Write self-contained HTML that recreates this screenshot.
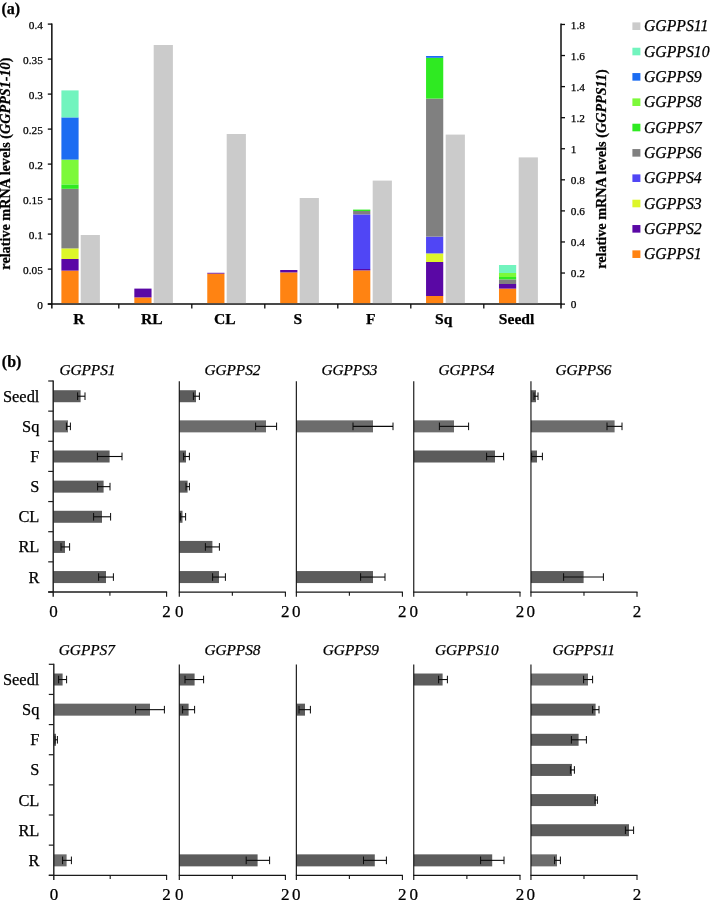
<!DOCTYPE html>
<html><head><meta charset="utf-8"><title>GGPPS expression</title>
<style>
html,body{margin:0;padding:0;background:#fff;}
svg{display:block;}
text{font-family:"Liberation Serif","Times New Roman",Times,serif;fill:#000;stroke:#000;stroke-width:0.25px;}
</style></head><body>
<svg width="710" height="900" viewBox="0 0 710 900" shape-rendering="geometricPrecision">
<rect x="0" y="0" width="710" height="900" fill="#ffffff"/>
<text x="1.50" y="13.80" font-size="16" text-anchor="start" font-weight="bold" font-style="normal"  stroke="none">(a)</text>
<line x1="51.85" y1="23.50" x2="51.85" y2="308.50" stroke="#0c0c0c" stroke-width="1.5"/>
<line x1="47.80" y1="304.10" x2="52.00" y2="304.10" stroke="#0c0c0c" stroke-width="1.3"/>
<text x="42.90" y="308.50" font-size="11.3" text-anchor="end" font-weight="normal" font-style="normal" >0</text>
<line x1="47.80" y1="269.10" x2="52.00" y2="269.10" stroke="#0c0c0c" stroke-width="1.3"/>
<text x="42.90" y="273.50" font-size="11.3" text-anchor="end" font-weight="normal" font-style="normal" >0.05</text>
<line x1="47.80" y1="234.10" x2="52.00" y2="234.10" stroke="#0c0c0c" stroke-width="1.3"/>
<text x="42.90" y="238.50" font-size="11.3" text-anchor="end" font-weight="normal" font-style="normal" >0.1</text>
<line x1="47.80" y1="199.10" x2="52.00" y2="199.10" stroke="#0c0c0c" stroke-width="1.3"/>
<text x="42.90" y="203.50" font-size="11.3" text-anchor="end" font-weight="normal" font-style="normal" >0.15</text>
<line x1="47.80" y1="164.10" x2="52.00" y2="164.10" stroke="#0c0c0c" stroke-width="1.3"/>
<text x="42.90" y="168.50" font-size="11.3" text-anchor="end" font-weight="normal" font-style="normal" >0.2</text>
<line x1="47.80" y1="129.10" x2="52.00" y2="129.10" stroke="#0c0c0c" stroke-width="1.3"/>
<text x="42.90" y="133.50" font-size="11.3" text-anchor="end" font-weight="normal" font-style="normal" >0.25</text>
<line x1="47.80" y1="94.10" x2="52.00" y2="94.10" stroke="#0c0c0c" stroke-width="1.3"/>
<text x="42.90" y="98.50" font-size="11.3" text-anchor="end" font-weight="normal" font-style="normal" >0.3</text>
<line x1="47.80" y1="59.10" x2="52.00" y2="59.10" stroke="#0c0c0c" stroke-width="1.3"/>
<text x="42.90" y="63.50" font-size="11.3" text-anchor="end" font-weight="normal" font-style="normal" >0.35</text>
<line x1="47.80" y1="24.10" x2="52.00" y2="24.10" stroke="#0c0c0c" stroke-width="1.3"/>
<text x="42.90" y="28.50" font-size="11.3" text-anchor="end" font-weight="normal" font-style="normal" >0.4</text>
<line x1="47.80" y1="304.00" x2="561.60" y2="304.00" stroke="#0c0c0c" stroke-width="1.5"/>
<line x1="118.80" y1="304.10" x2="118.80" y2="308.50" stroke="#0c0c0c" stroke-width="1.3"/>
<line x1="191.80" y1="304.10" x2="191.80" y2="308.50" stroke="#0c0c0c" stroke-width="1.3"/>
<line x1="264.80" y1="304.10" x2="264.80" y2="308.50" stroke="#0c0c0c" stroke-width="1.3"/>
<line x1="337.80" y1="304.10" x2="337.80" y2="308.50" stroke="#0c0c0c" stroke-width="1.3"/>
<line x1="410.80" y1="304.10" x2="410.80" y2="308.50" stroke="#0c0c0c" stroke-width="1.3"/>
<line x1="483.80" y1="304.10" x2="483.80" y2="308.50" stroke="#0c0c0c" stroke-width="1.3"/>
<line x1="561.00" y1="23.50" x2="561.00" y2="308.50" stroke="#0c0c0c" stroke-width="1.5"/>
<line x1="561.00" y1="304.10" x2="565.00" y2="304.10" stroke="#0c0c0c" stroke-width="1.3"/>
<text x="570.80" y="308.30" font-size="11.3" text-anchor="start" font-weight="normal" font-style="normal" >0</text>
<line x1="561.00" y1="273.03" x2="565.00" y2="273.03" stroke="#0c0c0c" stroke-width="1.3"/>
<text x="570.80" y="277.23" font-size="11.3" text-anchor="start" font-weight="normal" font-style="normal" >0.2</text>
<line x1="561.00" y1="241.96" x2="565.00" y2="241.96" stroke="#0c0c0c" stroke-width="1.3"/>
<text x="570.80" y="246.16" font-size="11.3" text-anchor="start" font-weight="normal" font-style="normal" >0.4</text>
<line x1="561.00" y1="210.89" x2="565.00" y2="210.89" stroke="#0c0c0c" stroke-width="1.3"/>
<text x="570.80" y="215.09" font-size="11.3" text-anchor="start" font-weight="normal" font-style="normal" >0.6</text>
<line x1="561.00" y1="179.82" x2="565.00" y2="179.82" stroke="#0c0c0c" stroke-width="1.3"/>
<text x="570.80" y="184.02" font-size="11.3" text-anchor="start" font-weight="normal" font-style="normal" >0.8</text>
<line x1="561.00" y1="148.75" x2="565.00" y2="148.75" stroke="#0c0c0c" stroke-width="1.3"/>
<text x="570.80" y="152.95" font-size="11.3" text-anchor="start" font-weight="normal" font-style="normal" >1</text>
<line x1="561.00" y1="117.68" x2="565.00" y2="117.68" stroke="#0c0c0c" stroke-width="1.3"/>
<text x="570.80" y="121.88" font-size="11.3" text-anchor="start" font-weight="normal" font-style="normal" >1.2</text>
<line x1="561.00" y1="86.61" x2="565.00" y2="86.61" stroke="#0c0c0c" stroke-width="1.3"/>
<text x="570.80" y="90.81" font-size="11.3" text-anchor="start" font-weight="normal" font-style="normal" >1.4</text>
<line x1="561.00" y1="55.54" x2="565.00" y2="55.54" stroke="#0c0c0c" stroke-width="1.3"/>
<text x="570.80" y="59.74" font-size="11.3" text-anchor="start" font-weight="normal" font-style="normal" >1.6</text>
<line x1="561.00" y1="24.47" x2="565.00" y2="24.47" stroke="#0c0c0c" stroke-width="1.3"/>
<text x="570.80" y="28.67" font-size="11.3" text-anchor="start" font-weight="normal" font-style="normal" >1.8</text>
<rect x="61.40" y="270.60" width="17.20" height="32.50" fill="#FF8312"/>
<rect x="61.40" y="259.00" width="17.20" height="11.60" fill="#5A08A5"/>
<rect x="61.40" y="248.40" width="17.20" height="10.60" fill="#DDF62A"/>
<rect x="61.40" y="188.80" width="17.20" height="59.60" fill="#808080"/>
<rect x="61.40" y="184.40" width="17.20" height="4.40" fill="#2FEA22"/>
<rect x="61.40" y="159.60" width="17.20" height="24.80" fill="#7CF93A"/>
<rect x="61.40" y="117.40" width="17.20" height="42.20" fill="#1B6CF2"/>
<rect x="61.40" y="90.40" width="17.20" height="27.00" fill="#72F4BE"/>
<rect x="80.70" y="235.00" width="19.20" height="68.10" fill="#CBCBCB"/>
<rect x="134.33" y="297.40" width="17.20" height="5.70" fill="#FF8312"/>
<rect x="134.33" y="288.60" width="17.20" height="8.80" fill="#5A08A5"/>
<rect x="153.70" y="45.00" width="19.20" height="258.10" fill="#CBCBCB"/>
<rect x="207.26" y="273.60" width="17.20" height="29.50" fill="#FF8312"/>
<rect x="207.26" y="272.80" width="17.20" height="0.80" fill="#5A08A5"/>
<rect x="226.70" y="134.00" width="19.20" height="169.10" fill="#CBCBCB"/>
<rect x="280.19" y="272.40" width="17.20" height="30.70" fill="#FF8312"/>
<rect x="280.19" y="270.00" width="17.20" height="2.40" fill="#5A08A5"/>
<rect x="299.70" y="198.00" width="19.20" height="105.10" fill="#CBCBCB"/>
<rect x="353.12" y="270.40" width="17.20" height="32.70" fill="#FF8312"/>
<rect x="353.12" y="269.00" width="17.20" height="1.40" fill="#5A08A5"/>
<rect x="353.12" y="214.40" width="17.20" height="54.60" fill="#5046F5"/>
<rect x="353.12" y="211.00" width="17.20" height="3.40" fill="#808080"/>
<rect x="353.12" y="209.60" width="17.20" height="1.40" fill="#2FEA22"/>
<rect x="372.70" y="180.60" width="19.20" height="122.50" fill="#CBCBCB"/>
<rect x="426.05" y="296.00" width="17.20" height="7.10" fill="#FF8312"/>
<rect x="426.05" y="262.00" width="17.20" height="34.00" fill="#5A08A5"/>
<rect x="426.05" y="253.40" width="17.20" height="8.60" fill="#DDF62A"/>
<rect x="426.05" y="236.60" width="17.20" height="16.80" fill="#5046F5"/>
<rect x="426.05" y="98.60" width="17.20" height="138.00" fill="#808080"/>
<rect x="426.05" y="57.80" width="17.20" height="40.80" fill="#2FEA22"/>
<rect x="426.05" y="56.00" width="17.20" height="1.80" fill="#1B6CF2"/>
<rect x="445.70" y="134.60" width="19.20" height="168.50" fill="#CBCBCB"/>
<rect x="498.98" y="288.60" width="17.20" height="14.50" fill="#FF8312"/>
<rect x="498.98" y="284.00" width="17.20" height="4.60" fill="#5A08A5"/>
<rect x="498.98" y="279.40" width="17.20" height="4.60" fill="#808080"/>
<rect x="498.98" y="277.00" width="17.20" height="2.40" fill="#2FEA22"/>
<rect x="498.98" y="273.00" width="17.20" height="4.00" fill="#7CF93A"/>
<rect x="498.98" y="265.00" width="17.20" height="8.00" fill="#72F4BE"/>
<rect x="518.70" y="157.40" width="19.20" height="145.70" fill="#CBCBCB"/>
<text x="78.90" y="324.40" font-size="15.6" text-anchor="middle" font-weight="bold" font-style="normal"  stroke="none">R</text>
<text x="151.85" y="324.40" font-size="15.6" text-anchor="middle" font-weight="bold" font-style="normal"  stroke="none">RL</text>
<text x="224.80" y="324.40" font-size="15.6" text-anchor="middle" font-weight="bold" font-style="normal"  stroke="none">CL</text>
<text x="297.75" y="324.40" font-size="15.6" text-anchor="middle" font-weight="bold" font-style="normal"  stroke="none">S</text>
<text x="370.70" y="324.40" font-size="15.6" text-anchor="middle" font-weight="bold" font-style="normal"  stroke="none">F</text>
<text x="443.65" y="324.40" font-size="15.6" text-anchor="middle" font-weight="bold" font-style="normal"  stroke="none">Sq</text>
<text x="516.60" y="324.40" font-size="15.6" text-anchor="middle" font-weight="bold" font-style="normal"  stroke="none">Seedl</text>
<text transform="translate(9.7,163.6) rotate(-90)" font-size="14.2" font-weight="bold" stroke="none" text-anchor="middle" id="ltitle">relative mRNA levels (<tspan font-style="italic">GGPPS1-10</tspan>)</text>
<text transform="translate(605.9,169) rotate(-90)" font-size="14.2" font-weight="bold" stroke="none" text-anchor="middle" id="rtitle">relative mRNA levels (<tspan font-style="italic">GGPPS11</tspan>)</text>
<rect x="632.40" y="22.40" width="8.00" height="7.60" fill="#CBCBCB"/>
<text x="643.90" y="31.40" font-size="15.75" text-anchor="start" font-weight="normal" font-style="italic" >GGPPS11</text>
<rect x="632.40" y="47.73" width="8.00" height="7.60" fill="#72F4BE"/>
<text x="643.90" y="56.73" font-size="15.75" text-anchor="start" font-weight="normal" font-style="italic" >GGPPS10</text>
<rect x="632.40" y="73.06" width="8.00" height="7.60" fill="#1B6CF2"/>
<text x="643.90" y="82.06" font-size="15.75" text-anchor="start" font-weight="normal" font-style="italic" >GGPPS9</text>
<rect x="632.40" y="98.39" width="8.00" height="7.60" fill="#7CF93A"/>
<text x="643.90" y="107.39" font-size="15.75" text-anchor="start" font-weight="normal" font-style="italic" >GGPPS8</text>
<rect x="632.40" y="123.72" width="8.00" height="7.60" fill="#2FEA22"/>
<text x="643.90" y="132.72" font-size="15.75" text-anchor="start" font-weight="normal" font-style="italic" >GGPPS7</text>
<rect x="632.40" y="149.05" width="8.00" height="7.60" fill="#808080"/>
<text x="643.90" y="158.05" font-size="15.75" text-anchor="start" font-weight="normal" font-style="italic" >GGPPS6</text>
<rect x="632.40" y="174.38" width="8.00" height="7.60" fill="#5046F5"/>
<text x="643.90" y="183.38" font-size="15.75" text-anchor="start" font-weight="normal" font-style="italic" >GGPPS4</text>
<rect x="632.40" y="199.71" width="8.00" height="7.60" fill="#DDF62A"/>
<text x="643.90" y="208.71" font-size="15.75" text-anchor="start" font-weight="normal" font-style="italic" >GGPPS3</text>
<rect x="632.40" y="225.04" width="8.00" height="7.60" fill="#5A08A5"/>
<text x="643.90" y="234.04" font-size="15.75" text-anchor="start" font-weight="normal" font-style="italic" >GGPPS2</text>
<rect x="632.40" y="250.37" width="8.00" height="7.60" fill="#FF8312"/>
<text x="643.90" y="259.37" font-size="15.75" text-anchor="start" font-weight="normal" font-style="italic" >GGPPS1</text>
<text x="1.80" y="367.10" font-size="16" text-anchor="start" font-weight="bold" font-style="normal"  stroke="none">(b)</text>
<rect x="53.20" y="390.22" width="27.40" height="12.00" fill="#5c5c5c"/>
<line x1="77.60" y1="396.22" x2="85.00" y2="396.22" stroke="#0a0a0a" stroke-width="1.1"/>
<line x1="77.60" y1="392.42" x2="77.60" y2="400.02" stroke="#0a0a0a" stroke-width="1.0"/>
<line x1="85.00" y1="392.42" x2="85.00" y2="400.02" stroke="#0a0a0a" stroke-width="1.0"/>
<rect x="53.20" y="420.36" width="14.80" height="12.00" fill="#6c6c6c"/>
<line x1="66.40" y1="426.36" x2="70.40" y2="426.36" stroke="#0a0a0a" stroke-width="1.1"/>
<line x1="66.40" y1="422.56" x2="66.40" y2="430.16" stroke="#0a0a0a" stroke-width="1.0"/>
<line x1="70.40" y1="422.56" x2="70.40" y2="430.16" stroke="#0a0a0a" stroke-width="1.0"/>
<rect x="53.20" y="450.50" width="56.40" height="12.00" fill="#5c5c5c"/>
<line x1="97.40" y1="456.50" x2="122.00" y2="456.50" stroke="#0a0a0a" stroke-width="1.1"/>
<line x1="97.40" y1="452.70" x2="97.40" y2="460.30" stroke="#0a0a0a" stroke-width="1.0"/>
<line x1="122.00" y1="452.70" x2="122.00" y2="460.30" stroke="#0a0a0a" stroke-width="1.0"/>
<rect x="53.20" y="480.64" width="50.40" height="12.00" fill="#5c5c5c"/>
<line x1="97.60" y1="486.64" x2="110.00" y2="486.64" stroke="#0a0a0a" stroke-width="1.1"/>
<line x1="97.60" y1="482.84" x2="97.60" y2="490.44" stroke="#0a0a0a" stroke-width="1.0"/>
<line x1="110.00" y1="482.84" x2="110.00" y2="490.44" stroke="#0a0a0a" stroke-width="1.0"/>
<rect x="53.20" y="510.78" width="48.80" height="12.00" fill="#5c5c5c"/>
<line x1="93.60" y1="516.78" x2="110.60" y2="516.78" stroke="#0a0a0a" stroke-width="1.1"/>
<line x1="93.60" y1="512.98" x2="93.60" y2="520.58" stroke="#0a0a0a" stroke-width="1.0"/>
<line x1="110.60" y1="512.98" x2="110.60" y2="520.58" stroke="#0a0a0a" stroke-width="1.0"/>
<rect x="53.20" y="540.92" width="11.80" height="12.00" fill="#5c5c5c"/>
<line x1="61.00" y1="546.92" x2="69.60" y2="546.92" stroke="#0a0a0a" stroke-width="1.1"/>
<line x1="61.00" y1="543.12" x2="61.00" y2="550.72" stroke="#0a0a0a" stroke-width="1.0"/>
<line x1="69.60" y1="543.12" x2="69.60" y2="550.72" stroke="#0a0a0a" stroke-width="1.0"/>
<rect x="53.20" y="571.06" width="52.80" height="12.00" fill="#5c5c5c"/>
<line x1="98.60" y1="577.06" x2="113.40" y2="577.06" stroke="#0a0a0a" stroke-width="1.1"/>
<line x1="98.60" y1="573.26" x2="98.60" y2="580.86" stroke="#0a0a0a" stroke-width="1.0"/>
<line x1="113.40" y1="573.26" x2="113.40" y2="580.86" stroke="#0a0a0a" stroke-width="1.0"/>
<line x1="53.20" y1="380.40" x2="53.20" y2="596.78" stroke="#1c1c1c" stroke-width="1.4"/>
<line x1="48.20" y1="381.00" x2="53.20" y2="381.00" stroke="#1c1c1c" stroke-width="1.2"/>
<line x1="48.20" y1="411.14" x2="53.20" y2="411.14" stroke="#1c1c1c" stroke-width="1.2"/>
<line x1="48.20" y1="441.28" x2="53.20" y2="441.28" stroke="#1c1c1c" stroke-width="1.2"/>
<line x1="48.20" y1="471.42" x2="53.20" y2="471.42" stroke="#1c1c1c" stroke-width="1.2"/>
<line x1="48.20" y1="501.56" x2="53.20" y2="501.56" stroke="#1c1c1c" stroke-width="1.2"/>
<line x1="48.20" y1="531.70" x2="53.20" y2="531.70" stroke="#1c1c1c" stroke-width="1.2"/>
<line x1="48.20" y1="561.84" x2="53.20" y2="561.84" stroke="#1c1c1c" stroke-width="1.2"/>
<line x1="48.20" y1="591.98" x2="53.20" y2="591.98" stroke="#1c1c1c" stroke-width="1.2"/>
<line x1="48.20" y1="591.98" x2="167.10" y2="591.98" stroke="#1c1c1c" stroke-width="1.3"/>
<line x1="109.90" y1="591.98" x2="109.90" y2="595.78" stroke="#141414" stroke-width="1.1"/>
<line x1="166.60" y1="591.98" x2="166.60" y2="596.78" stroke="#141414" stroke-width="1.1"/>
<text x="53.40" y="617.00" font-size="17" text-anchor="middle" font-weight="normal" font-style="normal" >0</text>
<text x="166.50" y="617.00" font-size="17" text-anchor="middle" font-weight="normal" font-style="normal" >2</text>
<text x="59.40" y="375.00" font-size="15.3" text-anchor="start" font-weight="normal" font-style="italic" >GGPPS1</text>
<rect x="179.30" y="390.22" width="16.70" height="12.00" fill="#5c5c5c"/>
<line x1="193.40" y1="396.22" x2="199.40" y2="396.22" stroke="#0a0a0a" stroke-width="1.1"/>
<line x1="193.40" y1="392.42" x2="193.40" y2="400.02" stroke="#0a0a0a" stroke-width="1.0"/>
<line x1="199.40" y1="392.42" x2="199.40" y2="400.02" stroke="#0a0a0a" stroke-width="1.0"/>
<rect x="179.30" y="420.36" width="86.70" height="12.00" fill="#6c6c6c"/>
<line x1="255.60" y1="426.36" x2="276.60" y2="426.36" stroke="#0a0a0a" stroke-width="1.1"/>
<line x1="255.60" y1="422.56" x2="255.60" y2="430.16" stroke="#0a0a0a" stroke-width="1.0"/>
<line x1="276.60" y1="422.56" x2="276.60" y2="430.16" stroke="#0a0a0a" stroke-width="1.0"/>
<rect x="179.30" y="450.50" width="6.70" height="12.00" fill="#5c5c5c"/>
<line x1="183.60" y1="456.50" x2="189.40" y2="456.50" stroke="#0a0a0a" stroke-width="1.1"/>
<line x1="183.60" y1="452.70" x2="183.60" y2="460.30" stroke="#0a0a0a" stroke-width="1.0"/>
<line x1="189.40" y1="452.70" x2="189.40" y2="460.30" stroke="#0a0a0a" stroke-width="1.0"/>
<rect x="179.30" y="480.64" width="8.30" height="12.00" fill="#5c5c5c"/>
<line x1="186.00" y1="486.64" x2="189.40" y2="486.64" stroke="#0a0a0a" stroke-width="1.1"/>
<line x1="186.00" y1="482.84" x2="186.00" y2="490.44" stroke="#0a0a0a" stroke-width="1.0"/>
<line x1="189.40" y1="482.84" x2="189.40" y2="490.44" stroke="#0a0a0a" stroke-width="1.0"/>
<rect x="179.30" y="510.78" width="3.20" height="12.00" fill="#5c5c5c"/>
<line x1="180.60" y1="516.78" x2="185.60" y2="516.78" stroke="#0a0a0a" stroke-width="1.1"/>
<line x1="180.60" y1="512.98" x2="180.60" y2="520.58" stroke="#0a0a0a" stroke-width="1.0"/>
<line x1="185.60" y1="512.98" x2="185.60" y2="520.58" stroke="#0a0a0a" stroke-width="1.0"/>
<rect x="179.30" y="540.92" width="33.10" height="12.00" fill="#5c5c5c"/>
<line x1="205.40" y1="546.92" x2="219.40" y2="546.92" stroke="#0a0a0a" stroke-width="1.1"/>
<line x1="205.40" y1="543.12" x2="205.40" y2="550.72" stroke="#0a0a0a" stroke-width="1.0"/>
<line x1="219.40" y1="543.12" x2="219.40" y2="550.72" stroke="#0a0a0a" stroke-width="1.0"/>
<rect x="179.30" y="571.06" width="39.70" height="12.00" fill="#5c5c5c"/>
<line x1="212.60" y1="577.06" x2="225.40" y2="577.06" stroke="#0a0a0a" stroke-width="1.1"/>
<line x1="212.60" y1="573.26" x2="212.60" y2="580.86" stroke="#0a0a0a" stroke-width="1.0"/>
<line x1="225.40" y1="573.26" x2="225.40" y2="580.86" stroke="#0a0a0a" stroke-width="1.0"/>
<line x1="179.30" y1="381.20" x2="179.30" y2="596.78" stroke="#141414" stroke-width="1.15"/>
<line x1="178.80" y1="592.13" x2="285.90" y2="592.13" stroke="#141414" stroke-width="1.15"/>
<line x1="232.35" y1="591.98" x2="232.35" y2="595.78" stroke="#141414" stroke-width="1.1"/>
<line x1="285.40" y1="591.98" x2="285.40" y2="596.78" stroke="#141414" stroke-width="1.1"/>
<text x="179.20" y="617.00" font-size="17" text-anchor="middle" font-weight="normal" font-style="normal" >0</text>
<text x="285.30" y="617.00" font-size="17" text-anchor="middle" font-weight="normal" font-style="normal" >2</text>
<text x="204.40" y="375.00" font-size="15.3" text-anchor="start" font-weight="normal" font-style="italic" >GGPPS2</text>
<rect x="296.35" y="420.36" width="76.65" height="12.00" fill="#6c6c6c"/>
<line x1="353.00" y1="426.36" x2="393.00" y2="426.36" stroke="#0a0a0a" stroke-width="1.1"/>
<line x1="353.00" y1="422.56" x2="353.00" y2="430.16" stroke="#0a0a0a" stroke-width="1.0"/>
<line x1="393.00" y1="422.56" x2="393.00" y2="430.16" stroke="#0a0a0a" stroke-width="1.0"/>
<rect x="296.35" y="571.06" width="76.65" height="12.00" fill="#5c5c5c"/>
<line x1="360.60" y1="577.06" x2="385.00" y2="577.06" stroke="#0a0a0a" stroke-width="1.1"/>
<line x1="360.60" y1="573.26" x2="360.60" y2="580.86" stroke="#0a0a0a" stroke-width="1.0"/>
<line x1="385.00" y1="573.26" x2="385.00" y2="580.86" stroke="#0a0a0a" stroke-width="1.0"/>
<line x1="296.35" y1="381.20" x2="296.35" y2="596.78" stroke="#141414" stroke-width="1.15"/>
<line x1="295.85" y1="592.13" x2="402.90" y2="592.13" stroke="#141414" stroke-width="1.15"/>
<line x1="349.38" y1="591.98" x2="349.38" y2="595.78" stroke="#141414" stroke-width="1.1"/>
<line x1="402.40" y1="591.98" x2="402.40" y2="596.78" stroke="#141414" stroke-width="1.1"/>
<text x="296.25" y="617.00" font-size="17" text-anchor="middle" font-weight="normal" font-style="normal" >0</text>
<text x="402.30" y="617.00" font-size="17" text-anchor="middle" font-weight="normal" font-style="normal" >2</text>
<text x="321.40" y="375.00" font-size="15.3" text-anchor="start" font-weight="normal" font-style="italic" >GGPPS3</text>
<rect x="413.75" y="420.36" width="40.25" height="12.00" fill="#6c6c6c"/>
<line x1="439.40" y1="426.36" x2="468.60" y2="426.36" stroke="#0a0a0a" stroke-width="1.1"/>
<line x1="439.40" y1="422.56" x2="439.40" y2="430.16" stroke="#0a0a0a" stroke-width="1.0"/>
<line x1="468.60" y1="422.56" x2="468.60" y2="430.16" stroke="#0a0a0a" stroke-width="1.0"/>
<rect x="413.75" y="450.50" width="81.25" height="12.00" fill="#5c5c5c"/>
<line x1="486.60" y1="456.50" x2="503.60" y2="456.50" stroke="#0a0a0a" stroke-width="1.1"/>
<line x1="486.60" y1="452.70" x2="486.60" y2="460.30" stroke="#0a0a0a" stroke-width="1.0"/>
<line x1="503.60" y1="452.70" x2="503.60" y2="460.30" stroke="#0a0a0a" stroke-width="1.0"/>
<line x1="413.75" y1="381.20" x2="413.75" y2="596.78" stroke="#141414" stroke-width="1.15"/>
<line x1="413.25" y1="592.13" x2="520.50" y2="592.13" stroke="#141414" stroke-width="1.15"/>
<line x1="466.88" y1="591.98" x2="466.88" y2="595.78" stroke="#141414" stroke-width="1.1"/>
<line x1="520.00" y1="591.98" x2="520.00" y2="596.78" stroke="#141414" stroke-width="1.1"/>
<text x="413.65" y="617.00" font-size="17" text-anchor="middle" font-weight="normal" font-style="normal" >0</text>
<text x="519.90" y="617.00" font-size="17" text-anchor="middle" font-weight="normal" font-style="normal" >2</text>
<text x="438.40" y="375.00" font-size="15.3" text-anchor="start" font-weight="normal" font-style="italic" >GGPPS4</text>
<rect x="530.95" y="390.22" width="5.05" height="12.00" fill="#5c5c5c"/>
<line x1="534.00" y1="396.22" x2="538.00" y2="396.22" stroke="#0a0a0a" stroke-width="1.1"/>
<line x1="534.00" y1="392.42" x2="534.00" y2="400.02" stroke="#0a0a0a" stroke-width="1.0"/>
<line x1="538.00" y1="392.42" x2="538.00" y2="400.02" stroke="#0a0a0a" stroke-width="1.0"/>
<rect x="530.95" y="420.36" width="83.65" height="12.00" fill="#6c6c6c"/>
<line x1="607.00" y1="426.36" x2="622.00" y2="426.36" stroke="#0a0a0a" stroke-width="1.1"/>
<line x1="607.00" y1="422.56" x2="607.00" y2="430.16" stroke="#0a0a0a" stroke-width="1.0"/>
<line x1="622.00" y1="422.56" x2="622.00" y2="430.16" stroke="#0a0a0a" stroke-width="1.0"/>
<rect x="530.95" y="450.50" width="6.05" height="12.00" fill="#5c5c5c"/>
<line x1="531.60" y1="456.50" x2="542.40" y2="456.50" stroke="#0a0a0a" stroke-width="1.1"/>
<line x1="531.60" y1="452.70" x2="531.60" y2="460.30" stroke="#0a0a0a" stroke-width="1.0"/>
<line x1="542.40" y1="452.70" x2="542.40" y2="460.30" stroke="#0a0a0a" stroke-width="1.0"/>
<rect x="530.95" y="571.06" width="52.65" height="12.00" fill="#5c5c5c"/>
<line x1="563.60" y1="577.06" x2="603.40" y2="577.06" stroke="#0a0a0a" stroke-width="1.1"/>
<line x1="563.60" y1="573.26" x2="563.60" y2="580.86" stroke="#0a0a0a" stroke-width="1.0"/>
<line x1="603.40" y1="573.26" x2="603.40" y2="580.86" stroke="#0a0a0a" stroke-width="1.0"/>
<line x1="530.95" y1="381.20" x2="530.95" y2="596.78" stroke="#141414" stroke-width="1.15"/>
<line x1="530.45" y1="592.13" x2="637.50" y2="592.13" stroke="#141414" stroke-width="1.15"/>
<line x1="583.98" y1="591.98" x2="583.98" y2="595.78" stroke="#141414" stroke-width="1.1"/>
<line x1="637.00" y1="591.98" x2="637.00" y2="596.78" stroke="#141414" stroke-width="1.1"/>
<text x="530.85" y="617.00" font-size="17" text-anchor="middle" font-weight="normal" font-style="normal" >0</text>
<text x="636.90" y="617.00" font-size="17" text-anchor="middle" font-weight="normal" font-style="normal" >2</text>
<text x="555.40" y="375.00" font-size="15.3" text-anchor="start" font-weight="normal" font-style="italic" >GGPPS6</text>
<text x="39.40" y="401.67" font-size="16.4" text-anchor="end" font-weight="normal" font-style="normal" >Seedl</text>
<text x="39.40" y="431.81" font-size="16.4" text-anchor="end" font-weight="normal" font-style="normal" >Sq</text>
<text x="39.40" y="461.95" font-size="16.4" text-anchor="end" font-weight="normal" font-style="normal" >F</text>
<text x="39.40" y="492.09" font-size="16.4" text-anchor="end" font-weight="normal" font-style="normal" >S</text>
<text x="39.40" y="522.23" font-size="16.4" text-anchor="end" font-weight="normal" font-style="normal" >CL</text>
<text x="39.40" y="552.37" font-size="16.4" text-anchor="end" font-weight="normal" font-style="normal" >RL</text>
<text x="39.40" y="582.51" font-size="16.4" text-anchor="end" font-weight="normal" font-style="normal" >R</text>
<rect x="53.80" y="673.52" width="8.80" height="12.00" fill="#5c5c5c"/>
<line x1="58.60" y1="679.52" x2="66.60" y2="679.52" stroke="#0a0a0a" stroke-width="1.1"/>
<line x1="58.60" y1="675.72" x2="58.60" y2="683.32" stroke="#0a0a0a" stroke-width="1.0"/>
<line x1="66.60" y1="675.72" x2="66.60" y2="683.32" stroke="#0a0a0a" stroke-width="1.0"/>
<rect x="53.80" y="703.66" width="96.20" height="12.00" fill="#666"/>
<line x1="135.60" y1="709.66" x2="164.40" y2="709.66" stroke="#0a0a0a" stroke-width="1.1"/>
<line x1="135.60" y1="705.86" x2="135.60" y2="713.46" stroke="#0a0a0a" stroke-width="1.0"/>
<line x1="164.40" y1="705.86" x2="164.40" y2="713.46" stroke="#0a0a0a" stroke-width="1.0"/>
<rect x="53.80" y="733.80" width="2.20" height="12.00" fill="#5c5c5c"/>
<line x1="55.00" y1="739.80" x2="57.40" y2="739.80" stroke="#0a0a0a" stroke-width="1.1"/>
<line x1="55.00" y1="736.00" x2="55.00" y2="743.60" stroke="#0a0a0a" stroke-width="1.0"/>
<line x1="57.40" y1="736.00" x2="57.40" y2="743.60" stroke="#0a0a0a" stroke-width="1.0"/>
<rect x="53.80" y="854.36" width="12.80" height="12.00" fill="#6c6c6c"/>
<line x1="62.60" y1="860.36" x2="71.40" y2="860.36" stroke="#0a0a0a" stroke-width="1.1"/>
<line x1="62.60" y1="856.56" x2="62.60" y2="864.16" stroke="#0a0a0a" stroke-width="1.0"/>
<line x1="71.40" y1="856.56" x2="71.40" y2="864.16" stroke="#0a0a0a" stroke-width="1.0"/>
<line x1="53.80" y1="663.70" x2="53.80" y2="880.08" stroke="#1c1c1c" stroke-width="1.4"/>
<line x1="48.80" y1="664.30" x2="53.80" y2="664.30" stroke="#1c1c1c" stroke-width="1.2"/>
<line x1="48.80" y1="694.44" x2="53.80" y2="694.44" stroke="#1c1c1c" stroke-width="1.2"/>
<line x1="48.80" y1="724.58" x2="53.80" y2="724.58" stroke="#1c1c1c" stroke-width="1.2"/>
<line x1="48.80" y1="754.72" x2="53.80" y2="754.72" stroke="#1c1c1c" stroke-width="1.2"/>
<line x1="48.80" y1="784.86" x2="53.80" y2="784.86" stroke="#1c1c1c" stroke-width="1.2"/>
<line x1="48.80" y1="815.00" x2="53.80" y2="815.00" stroke="#1c1c1c" stroke-width="1.2"/>
<line x1="48.80" y1="845.14" x2="53.80" y2="845.14" stroke="#1c1c1c" stroke-width="1.2"/>
<line x1="48.80" y1="875.28" x2="53.80" y2="875.28" stroke="#1c1c1c" stroke-width="1.2"/>
<line x1="48.80" y1="875.28" x2="167.10" y2="875.28" stroke="#1c1c1c" stroke-width="1.3"/>
<line x1="110.20" y1="875.28" x2="110.20" y2="879.08" stroke="#141414" stroke-width="1.1"/>
<line x1="166.60" y1="875.28" x2="166.60" y2="880.08" stroke="#141414" stroke-width="1.1"/>
<text x="54.00" y="900.40" font-size="17" text-anchor="middle" font-weight="normal" font-style="normal" >0</text>
<text x="166.50" y="900.40" font-size="17" text-anchor="middle" font-weight="normal" font-style="normal" >2</text>
<text x="58.80" y="654.60" font-size="15.3" text-anchor="start" font-weight="normal" font-style="italic" >GGPPS7</text>
<rect x="179.30" y="673.52" width="15.30" height="12.00" fill="#5c5c5c"/>
<line x1="185.00" y1="679.52" x2="203.60" y2="679.52" stroke="#0a0a0a" stroke-width="1.1"/>
<line x1="185.00" y1="675.72" x2="185.00" y2="683.32" stroke="#0a0a0a" stroke-width="1.0"/>
<line x1="203.60" y1="675.72" x2="203.60" y2="683.32" stroke="#0a0a0a" stroke-width="1.0"/>
<rect x="179.30" y="703.66" width="9.30" height="12.00" fill="#5c5c5c"/>
<line x1="182.60" y1="709.66" x2="194.60" y2="709.66" stroke="#0a0a0a" stroke-width="1.1"/>
<line x1="182.60" y1="705.86" x2="182.60" y2="713.46" stroke="#0a0a0a" stroke-width="1.0"/>
<line x1="194.60" y1="705.86" x2="194.60" y2="713.46" stroke="#0a0a0a" stroke-width="1.0"/>
<rect x="179.30" y="854.36" width="78.30" height="12.00" fill="#5c5c5c"/>
<line x1="246.20" y1="860.36" x2="269.60" y2="860.36" stroke="#0a0a0a" stroke-width="1.1"/>
<line x1="246.20" y1="856.56" x2="246.20" y2="864.16" stroke="#0a0a0a" stroke-width="1.0"/>
<line x1="269.60" y1="856.56" x2="269.60" y2="864.16" stroke="#0a0a0a" stroke-width="1.0"/>
<line x1="179.30" y1="664.50" x2="179.30" y2="880.08" stroke="#141414" stroke-width="1.15"/>
<line x1="178.80" y1="875.43" x2="285.90" y2="875.43" stroke="#141414" stroke-width="1.15"/>
<line x1="232.35" y1="875.28" x2="232.35" y2="879.08" stroke="#141414" stroke-width="1.1"/>
<line x1="285.40" y1="875.28" x2="285.40" y2="880.08" stroke="#141414" stroke-width="1.1"/>
<text x="179.20" y="900.40" font-size="17" text-anchor="middle" font-weight="normal" font-style="normal" >0</text>
<text x="285.30" y="900.40" font-size="17" text-anchor="middle" font-weight="normal" font-style="normal" >2</text>
<text x="204.40" y="654.60" font-size="15.3" text-anchor="start" font-weight="normal" font-style="italic" >GGPPS8</text>
<rect x="296.35" y="703.66" width="8.65" height="12.00" fill="#5c5c5c"/>
<line x1="299.00" y1="709.66" x2="310.40" y2="709.66" stroke="#0a0a0a" stroke-width="1.1"/>
<line x1="299.00" y1="705.86" x2="299.00" y2="713.46" stroke="#0a0a0a" stroke-width="1.0"/>
<line x1="310.40" y1="705.86" x2="310.40" y2="713.46" stroke="#0a0a0a" stroke-width="1.0"/>
<rect x="296.35" y="854.36" width="78.45" height="12.00" fill="#5c5c5c"/>
<line x1="363.50" y1="860.36" x2="386.40" y2="860.36" stroke="#0a0a0a" stroke-width="1.1"/>
<line x1="363.50" y1="856.56" x2="363.50" y2="864.16" stroke="#0a0a0a" stroke-width="1.0"/>
<line x1="386.40" y1="856.56" x2="386.40" y2="864.16" stroke="#0a0a0a" stroke-width="1.0"/>
<line x1="296.35" y1="664.50" x2="296.35" y2="880.08" stroke="#141414" stroke-width="1.15"/>
<line x1="295.85" y1="875.43" x2="402.90" y2="875.43" stroke="#141414" stroke-width="1.15"/>
<line x1="349.38" y1="875.28" x2="349.38" y2="879.08" stroke="#141414" stroke-width="1.1"/>
<line x1="402.40" y1="875.28" x2="402.40" y2="880.08" stroke="#141414" stroke-width="1.1"/>
<text x="296.25" y="900.40" font-size="17" text-anchor="middle" font-weight="normal" font-style="normal" >0</text>
<text x="402.30" y="900.40" font-size="17" text-anchor="middle" font-weight="normal" font-style="normal" >2</text>
<text x="322.80" y="654.60" font-size="15.3" text-anchor="start" font-weight="normal" font-style="italic" >GGPPS9</text>
<rect x="413.75" y="673.52" width="28.85" height="12.00" fill="#5c5c5c"/>
<line x1="438.60" y1="679.52" x2="447.40" y2="679.52" stroke="#0a0a0a" stroke-width="1.1"/>
<line x1="438.60" y1="675.72" x2="438.60" y2="683.32" stroke="#0a0a0a" stroke-width="1.0"/>
<line x1="447.40" y1="675.72" x2="447.40" y2="683.32" stroke="#0a0a0a" stroke-width="1.0"/>
<rect x="413.75" y="854.36" width="78.45" height="12.00" fill="#5c5c5c"/>
<line x1="480.60" y1="860.36" x2="504.00" y2="860.36" stroke="#0a0a0a" stroke-width="1.1"/>
<line x1="480.60" y1="856.56" x2="480.60" y2="864.16" stroke="#0a0a0a" stroke-width="1.0"/>
<line x1="504.00" y1="856.56" x2="504.00" y2="864.16" stroke="#0a0a0a" stroke-width="1.0"/>
<line x1="413.75" y1="664.50" x2="413.75" y2="880.08" stroke="#141414" stroke-width="1.15"/>
<line x1="413.25" y1="875.43" x2="520.50" y2="875.43" stroke="#141414" stroke-width="1.15"/>
<line x1="466.88" y1="875.28" x2="466.88" y2="879.08" stroke="#141414" stroke-width="1.1"/>
<line x1="520.00" y1="875.28" x2="520.00" y2="880.08" stroke="#141414" stroke-width="1.1"/>
<text x="413.65" y="900.40" font-size="17" text-anchor="middle" font-weight="normal" font-style="normal" >0</text>
<text x="519.90" y="900.40" font-size="17" text-anchor="middle" font-weight="normal" font-style="normal" >2</text>
<text x="434.90" y="654.60" font-size="15.3" text-anchor="start" font-weight="normal" font-style="italic" >GGPPS10</text>
<rect x="530.95" y="673.52" width="57.05" height="12.00" fill="#6c6c6c"/>
<line x1="583.60" y1="679.52" x2="592.60" y2="679.52" stroke="#0a0a0a" stroke-width="1.1"/>
<line x1="583.60" y1="675.72" x2="583.60" y2="683.32" stroke="#0a0a0a" stroke-width="1.0"/>
<line x1="592.60" y1="675.72" x2="592.60" y2="683.32" stroke="#0a0a0a" stroke-width="1.0"/>
<rect x="530.95" y="703.66" width="64.65" height="12.00" fill="#5c5c5c"/>
<line x1="592.60" y1="709.66" x2="599.00" y2="709.66" stroke="#0a0a0a" stroke-width="1.1"/>
<line x1="592.60" y1="705.86" x2="592.60" y2="713.46" stroke="#0a0a0a" stroke-width="1.0"/>
<line x1="599.00" y1="705.86" x2="599.00" y2="713.46" stroke="#0a0a0a" stroke-width="1.0"/>
<rect x="530.95" y="733.80" width="47.65" height="12.00" fill="#5c5c5c"/>
<line x1="571.40" y1="739.80" x2="586.40" y2="739.80" stroke="#0a0a0a" stroke-width="1.1"/>
<line x1="571.40" y1="736.00" x2="571.40" y2="743.60" stroke="#0a0a0a" stroke-width="1.0"/>
<line x1="586.40" y1="736.00" x2="586.40" y2="743.60" stroke="#0a0a0a" stroke-width="1.0"/>
<rect x="530.95" y="763.94" width="41.05" height="12.00" fill="#5c5c5c"/>
<line x1="570.40" y1="769.94" x2="574.40" y2="769.94" stroke="#0a0a0a" stroke-width="1.1"/>
<line x1="570.40" y1="766.14" x2="570.40" y2="773.74" stroke="#0a0a0a" stroke-width="1.0"/>
<line x1="574.40" y1="766.14" x2="574.40" y2="773.74" stroke="#0a0a0a" stroke-width="1.0"/>
<rect x="530.95" y="794.08" width="65.05" height="12.00" fill="#5c5c5c"/>
<line x1="595.00" y1="800.08" x2="597.40" y2="800.08" stroke="#0a0a0a" stroke-width="1.1"/>
<line x1="595.00" y1="796.28" x2="595.00" y2="803.88" stroke="#0a0a0a" stroke-width="1.0"/>
<line x1="597.40" y1="796.28" x2="597.40" y2="803.88" stroke="#0a0a0a" stroke-width="1.0"/>
<rect x="530.95" y="824.22" width="98.05" height="12.00" fill="#5c5c5c"/>
<line x1="625.40" y1="830.22" x2="633.60" y2="830.22" stroke="#0a0a0a" stroke-width="1.1"/>
<line x1="625.40" y1="826.42" x2="625.40" y2="834.02" stroke="#0a0a0a" stroke-width="1.0"/>
<line x1="633.60" y1="826.42" x2="633.60" y2="834.02" stroke="#0a0a0a" stroke-width="1.0"/>
<rect x="530.95" y="854.36" width="26.05" height="12.00" fill="#6c6c6c"/>
<line x1="554.60" y1="860.36" x2="560.40" y2="860.36" stroke="#0a0a0a" stroke-width="1.1"/>
<line x1="554.60" y1="856.56" x2="554.60" y2="864.16" stroke="#0a0a0a" stroke-width="1.0"/>
<line x1="560.40" y1="856.56" x2="560.40" y2="864.16" stroke="#0a0a0a" stroke-width="1.0"/>
<line x1="530.95" y1="664.50" x2="530.95" y2="880.08" stroke="#141414" stroke-width="1.15"/>
<line x1="530.45" y1="875.43" x2="637.50" y2="875.43" stroke="#141414" stroke-width="1.15"/>
<line x1="583.98" y1="875.28" x2="583.98" y2="879.08" stroke="#141414" stroke-width="1.1"/>
<line x1="637.00" y1="875.28" x2="637.00" y2="880.08" stroke="#141414" stroke-width="1.1"/>
<text x="530.85" y="900.40" font-size="17" text-anchor="middle" font-weight="normal" font-style="normal" >0</text>
<text x="636.90" y="900.40" font-size="17" text-anchor="middle" font-weight="normal" font-style="normal" >2</text>
<text x="552.40" y="654.60" font-size="15.3" text-anchor="start" font-weight="normal" font-style="italic" >GGPPS11</text>
<text x="39.40" y="684.97" font-size="16.4" text-anchor="end" font-weight="normal" font-style="normal" >Seedl</text>
<text x="39.40" y="715.11" font-size="16.4" text-anchor="end" font-weight="normal" font-style="normal" >Sq</text>
<text x="39.40" y="745.25" font-size="16.4" text-anchor="end" font-weight="normal" font-style="normal" >F</text>
<text x="39.40" y="775.39" font-size="16.4" text-anchor="end" font-weight="normal" font-style="normal" >S</text>
<text x="39.40" y="805.53" font-size="16.4" text-anchor="end" font-weight="normal" font-style="normal" >CL</text>
<text x="39.40" y="835.67" font-size="16.4" text-anchor="end" font-weight="normal" font-style="normal" >RL</text>
<text x="39.40" y="865.81" font-size="16.4" text-anchor="end" font-weight="normal" font-style="normal" >R</text>
</svg>
</body></html>
